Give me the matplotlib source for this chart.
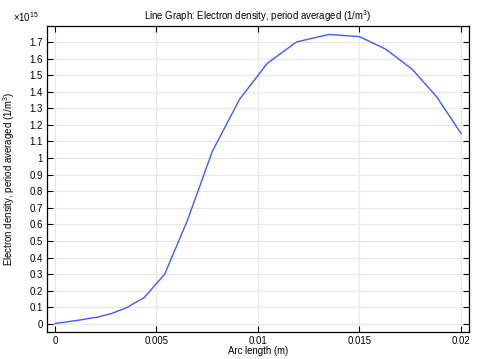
import numpy as np
import matplotlib
matplotlib.use("Agg")
import matplotlib.pyplot as plt
from matplotlib.ticker import FuncFormatter, MultipleLocator

# Arc length (m) and electron density (x1e15 1/m^3)
arc_length = [0, 0.0011, 0.0021, 0.0028, 0.0035, 0.0044, 0.0054, 0.0065,
              0.00775, 0.0091, 0.01046, 0.0119, 0.0135, 0.0150, 0.0163,
              0.0176, 0.0188, 0.0200]
density = [0.003, 0.022, 0.042, 0.064, 0.097, 0.160, 0.300, 0.617,
           1.040, 1.356, 1.571, 1.700, 1.745, 1.732, 1.656,
           1.535, 1.370, 1.149]

title = "Line Graph: Electron density, period averaged (1/m$^3$)"
xlabel = "Arc length (m)"
ylabel = "Electron density, period averaged (1/m$^3$)"

plt.rcParams['font.family'] = ['Liberation Sans', 'DejaVu Sans']
plt.rcParams['mathtext.fontset'] = 'custom'
plt.rcParams['mathtext.rm'] = 'Liberation Sans'
fs = 6.9
fig = plt.figure(figsize=(4.88, 3.59), dpi=100)
ax = fig.add_axes([0.0963, 0.0752, 0.8647, 0.8524])

ax.plot(arc_length, density, color='#3a5cff', lw=1.0)

ax.set_xlim(-0.000394, 0.020394)
ax.set_ylim(-0.048, 1.796)
ax.xaxis.set_major_locator(MultipleLocator(0.005))
ax.yaxis.set_major_locator(MultipleLocator(0.1))
fmt = FuncFormatter(lambda v, p: "%g" % round(v, 6))
ax.xaxis.set_major_formatter(fmt)
ax.yaxis.set_major_formatter(fmt)

ax.grid(True, color='#e6e6e6', lw=0.8)
ax.set_axisbelow(True)
ax.tick_params(direction='in', top=True, right=True, labelsize=fs,
               length=4, width=0.8, pad=3, colors='black')
for s in ax.spines.values():
    s.set_linewidth(0.9)

ax.set_title(title, fontsize=fs, pad=4)
ax.set_xlabel(xlabel, fontsize=fs, labelpad=0)
ax.set_ylabel(ylabel, fontsize=fs, labelpad=9)
ax.text(-0.02, 1.005, r"$\times10^{15}$", transform=ax.transAxes,
        fontsize=fs, ha='right', va='bottom')

fig.savefig("out.png", dpi=100)
